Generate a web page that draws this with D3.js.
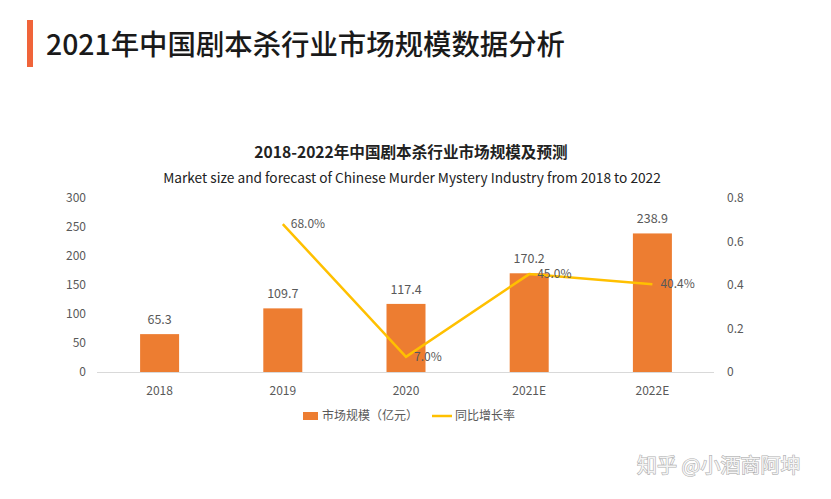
<!DOCTYPE html>
<html><head><meta charset="utf-8">
<script src="https://cdn.jsdelivr.net/npm/d3@7"></script>
<style>
html,body{margin:0;padding:0;background:#fff;}
svg{display:block;font-family:"Noto Sans CJK SC","Noto Sans",sans-serif;}
</style></head>
<body>
<svg id="c" width="831" height="499"></svg>
<script>
const categories = ["2018","2019","2020","2021E","2022E"];
const marketSize = [65.3,109.7,117.4,170.2,238.9];
const growthRate = [null,0.680,0.070,0.450,0.404];
const leftTicks = [0,50,100,150,200,250,300];
const rightTicks = [0,0.2,0.4,0.6,0.8];
const pageTitle = "2021年中国剧本杀行业市场规模数据分析";
const chartTitle = "2018-2022年中国剧本杀行业市场规模及预测";
const chartSubtitle = "Market size and forecast of Chinese Murder Mystery Industry from 2018 to 2022";
const legendLabels = ["市场规模（亿元）","同比增长率"];
const watermark = "知乎 @小酒商阿坤";

const svg = d3.select("#c");
const barColor = "#ED7D31", lineColor = "#FFC000", textColor = "#595959";

// page header
svg.append("rect").attr("x",27).attr("y",20).attr("width",6).attr("height",47).attr("fill","#F0643A");
svg.append("text").attr("x",46).attr("y",55).attr("font-size",28.4).attr("font-weight",500)
  .attr("fill","#1a1a1a").text(pageTitle);

// chart titles
svg.append("text").attr("x",411).attr("y",158).attr("text-anchor","middle").attr("font-size",15.6)
  .attr("font-weight",700).attr("fill","#222").text(chartTitle);
svg.append("text").attr("x",412).attr("y",183).attr("text-anchor","middle").attr("font-size",13.7)
  .attr("fill","#222").text(chartSubtitle);

const x = d3.scaleBand().domain(categories).range([98,714]);
const y = d3.scaleLinear().domain([0,300]).range([372,198]);
const y2 = d3.scaleLinear().domain([0,0.8]).range([372,198]);
const bw = 39;

// axes
const gl = svg.append("g").attr("transform","translate(86,0)")
  .call(d3.axisLeft(y).tickValues(leftTicks).tickSize(0).tickPadding(0));
const gr = svg.append("g").attr("transform","translate(727,0)")
  .call(d3.axisRight(y2).tickValues(rightTicks).tickSize(0).tickPadding(0).tickFormat(d=>d===0?"0":d3.format(".1f")(d)));
const gx = svg.append("g").attr("transform","translate(0,372)")
  .call(d3.axisBottom(x).tickSize(0).tickPadding(14));
[gl,gr,gx].forEach(g=>{
  g.select(".domain").remove();
  g.selectAll("text").attr("fill",textColor).attr("font-size",12).attr("font-family","'Noto Sans CJK SC',sans-serif");
});
svg.append("line").attr("x1",97).attr("x2",714).attr("y1",372.5).attr("y2",372.5)
  .attr("stroke","#d9d9d9").attr("stroke-width",1);

// bars
svg.selectAll("rect.bar").data(categories).join("rect").attr("class","bar")
  .attr("x",d=>x(d)+x.bandwidth()/2-bw/2).attr("width",bw)
  .attr("y",(d,i)=>y(marketSize[i])).attr("height",(d,i)=>y(0)-y(marketSize[i]))
  .attr("fill",barColor);
svg.selectAll("text.bl").data(categories).join("text").attr("class","bl")
  .attr("x",d=>x(d)+x.bandwidth()/2).attr("y",(d,i)=>y(marketSize[i])-10)
  .attr("text-anchor","middle").attr("font-size",12.5).attr("fill",textColor)
  .text((d,i)=>marketSize[i].toFixed(1));

// line
const pts = categories.map((c,i)=>({c,v:growthRate[i]})).filter(d=>d.v!==null);
svg.append("path").datum(pts)
  .attr("d",d3.line().x(d=>x(d.c)+x.bandwidth()/2).y(d=>y2(d.v)))
  .attr("fill","none").attr("stroke",lineColor).attr("stroke-width",2.5);
svg.selectAll("text.ll").data(pts).join("text").attr("class","ll")
  .attr("x",d=>x(d.c)+x.bandwidth()/2+8).attr("y",d=>y2(d.v)+4)
  .attr("font-size",12).attr("fill",textColor)
  .text(d=>(d.v*100).toFixed(1)+"%");

// legend
svg.append("rect").attr("x",303).attr("y",412).attr("width",15).attr("height",8).attr("fill",barColor);
svg.append("text").attr("x",322).attr("y",420).attr("font-size",12).attr("fill",textColor).text(legendLabels[0]);
svg.append("line").attr("x1",432).attr("x2",452).attr("y1",416).attr("y2",416).attr("stroke",lineColor).attr("stroke-width",2.5);
svg.append("text").attr("x",455).attr("y",420).attr("font-size",12).attr("fill",textColor).text(legendLabels[1]);

// watermark
svg.append("text").attr("x",637).attr("y",473).attr("font-size",20).attr("fill","#f4f4f4")
  .attr("stroke","#b0b0b0").attr("stroke-width",1.2).attr("paint-order","stroke").text(watermark);
</script>
</body></html>
